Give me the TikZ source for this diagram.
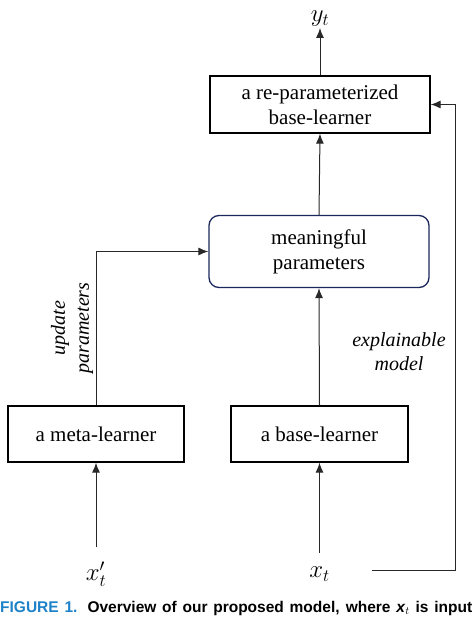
\documentclass[tikz,border=0pt]{standalone}
\usepackage{fontspec}
\setmainfont{Liberation Serif}
\newfontfamily\capfont{Liberation Sans}
\usepackage{amsmath}
\usetikzlibrary{arrows.meta, positioning}
\definecolor{navyedge}{RGB}{28, 40, 92}
\definecolor{capblue}{RGB}{30, 130, 200}
\definecolor{linegray}{RGB}{40, 40, 40}

\begin{document}
\begin{tikzpicture}[x=1pt, y=-1pt,
  lbox/.style={draw, line width=1.3pt, align=center, font=\fontsize{21}{25}\selectfont, inner sep=0pt},
  pbox/.style={lbox, draw=navyedge, rounded corners=10pt},
  arr/.style={draw=linegray, line width=1pt, -{Latex[length=10pt, width=8pt]}},
  var/.style={font=\fontsize{26}{30}\selectfont, inner sep=2pt},
  note/.style={font=\itshape\fontsize{20}{24}\selectfont, align=center}
]
  \clip (0,0) rectangle (474,618);
  \useasboundingbox (0,0) rectangle (474,618);

  % boxes
  \node[lbox, minimum width=220pt, minimum height=57pt] (rebase) at (320,104.5) {a re-parameterized\\base-learner};
  \node[pbox, minimum width=220pt, minimum height=72pt] (mean) at (319,251.5) {meaningful\\parameters};
  \node[lbox, minimum width=176pt, minimum height=56pt] (meta) at (96,434) {a meta-learner};
  \node[lbox, minimum width=177pt, minimum height=56pt] (base) at (319.5,434) {a base-learner};

  % inputs and output
  \node[var, inner sep=1pt] (yt) at (320,19) {$y_t$};
  \node[var] (xpt) at (96,574) {$x'_t$};
  \node[var] (xt) at (319.5,574) {$x_t$};
  \coordinate (fbstart) at (372,570);
  \coordinate (fbcorner) at (455,570);

  % connectors
  \draw[arr] (rebase.north) -- (yt.south);
  \draw[arr] (mean.north) -- (rebase.south);
  \draw[arr] (base.north) -- (mean.south);
  \draw[arr] (meta.north) |- (mean.west);
  \draw[arr, shorten <=12pt] (xpt.north) -- (meta.south);
  \draw[arr, shorten <=12pt] (xt.north) -- (base.south);
  \draw[arr] (fbstart) -- (fbcorner) |- (rebase.east);

  % labels
  \node[note, rotate=90] (upd) at (72,328) {update\\parameters};
  \node[note] (expl) at (399,352) {explainable\\model};

  % caption
  \node[anchor=base west, inner sep=0pt, font=\capfont\bfseries\fontsize{15.5}{19}\selectfont] (cap) at (0,612)
    {\makebox[472pt][s]{\textcolor{capblue}{FIGURE 1.} Overview of our proposed model, where \textit{x}$_t$ is input}};
\end{tikzpicture}
\end{document}
